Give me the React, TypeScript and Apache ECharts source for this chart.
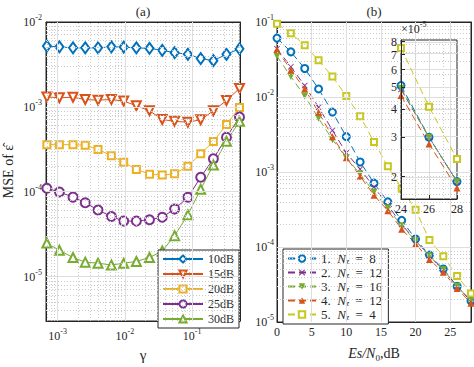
import React, { useEffect, useRef } from "react";
import * as echarts from "echarts";

const FONT = '"Liberation Serif", "Times New Roman", serif';
const INK = "#262626";

// ---------------- Panel (a) ----------------
const gamma = [6.9e-4, 1.06e-3, 1.69e-3, 2.57e-3, 3.98e-3, 6.29e-3, 9.6e-3, 1.48e-2, 2.32e-2, 3.59e-2, 5.48e-2, 8.65e-2, 0.134, 0.207, 0.324, 0.506];
const mse10dB = [5.2e-3, 5.1e-3, 4.96e-3, 4.96e-3, 4.96e-3, 5.1e-3, 5.06e-3, 4.96e-3, 4.89e-3, 4.64e-3, 4.35e-3, 4.17e-3, 3.71e-3, 3.5e-3, 4.17e-3, 4.83e-3];
const mse15dB = [1.31e-3, 1.28e-3, 1.3e-3, 1.22e-3, 1.2e-3, 1.22e-3, 1.17e-3, 1.03e-3, 9.0e-4, 7.1e-4, 6.75e-4, 6.6e-4, 7.05e-4, 9.0e-4, 1.19e-3, 1.65e-3];
const mse20dB = [3.59e-4, 3.59e-4, 3.59e-4, 3.53e-4, 3.15e-4, 2.65e-4, 2.22e-4, 1.83e-4, 1.61e-4, 1.57e-4, 1.63e-4, 2.0e-4, 2.8e-4, 3.9e-4, 6.18e-4, 9.8e-4];
const mse25dB = [1.1e-4, 9.93e-5, 8.64e-5, 7.43e-5, 6.09e-5, 5.1e-5, 4.51e-5, 4.51e-5, 4.68e-5, 5.01e-5, 6.25e-5, 8.6e-5, 1.48e-4, 2.45e-4, 4.37e-4, 7.57e-4];
const mse30dB = [2.49e-5, 2.04e-5, 1.68e-5, 1.48e-5, 1.44e-5, 1.37e-5, 1.44e-5, 1.51e-5, 1.68e-5, 2.0e-5, 3.04e-5, 5.34e-5, 1.07e-4, 2.07e-4, 3.93e-4, 6.75e-4];
const snrNames = ["10dB", "15dB", "20dB", "25dB", "30dB"];
const gammaRange = [6.7e-4, 0.515];
const mseRange = [3e-6, 1e-2];
const gammaTickExps = [-3, -2, -1];
const mseTickExps = [-5, -4, -3, -2];

// ---------------- Panel (b) ----------------
const esN0 = [0, 2, 4, 6, 8, 10, 12, 14, 16, 18, 20, 22, 24, 26, 28];
const ber1 = [6.1e-2, 4.0e-2, 2.4e-2, 1.28e-2, 6.3e-3, 2.96e-3, 1.36e-3, 7.1e-4, 4.0e-4, 2.27e-4, 1.28e-4, 7.8e-5, 5.1e-5, 3.0e-5, 1.9e-5];
const ber2 = [4.4e-2, 2.53e-2, 1.42e-2, 7.3e-3, 3.6e-3, 1.8e-3, 1.09e-3, 6.3e-4, 3.6e-4, 2.0e-4, 1.22e-4, 7.6e-5, 4.9e-5, 3.0e-5, 1.9e-5];
const ber3 = [3.5e-2, 1.87e-2, 1.03e-2, 5.2e-3, 2.7e-3, 1.55e-3, 9.4e-4, 5.4e-4, 3.3e-4, 1.91e-4, 1.22e-4, 7.6e-5, 4.96e-5, 3.0e-5, 1.9e-5];
const ber4 = [4.3e-2, 2.29e-2, 1.28e-2, 6.25e-3, 2.96e-3, 1.55e-3, 8.8e-4, 4.9e-4, 3.05e-4, 1.73e-4, 1.1e-4, 6.8e-5, 4.6e-5, 2.8e-5, 1.78e-5];
const ber5 = [9.5e-2, 7.1e-2, 4.9e-2, 3.08e-2, 1.87e-2, 1.03e-2, 5.55e-3, 2.51e-3, 1.19e-3, 6.0e-4, 3.14e-4, 1.24e-4, 7.5e-5, 4.1e-5, 2.4e-5];
const schemeNames = ["1. Nz = 8", "2. Nz = 12", "3. Nz = 16", "4. Nz = 12", "5. Nz = 4"];
const schemeNz = ["8", "12", "16", "12", "4"];
const esN0Range = [0, 28];
const esN0Ticks = [0, 5, 10, 15, 20, 25];
const berRange = [1e-5, 1e-1];
const berTickExps = [-5, -4, -3, -2, -1];
// inset
const insetXRange = [24, 28];
const insetXTicks = [24, 26, 28];
const insetXMinor = [25, 27];
const insetYRange = [1.59e-5, 8.14e-5];
const insetYTicks = [2, 3, 4, 5, 6, 7, 8]; // x 10^-5

const L = (v: number) => Math.log10(v);

const COL = {
  blue: "#0072BD",
  orange: "#D95319",
  yellow: "#EDB120",
  purple: "#7E2F8E",
  green: "#77AC30",
  lime: "#C8C81E",
};

const X_PATH = "path://M0,1L1,0L5,4L9,0L10,1L6,5L10,9L9,10L5,6L1,10L0,9L4,5Z";

function minorLogs(lo: number, hi: number) {
  const out: number[] = [];
  for (let e = Math.floor(lo) - 1; e <= Math.ceil(hi); e++) {
    for (let k = 2; k <= 9; k++) {
      const v = e + Math.log10(k);
      if (v > lo + 1e-6 && v < hi - 1e-6) out.push(v);
    }
  }
  return out;
}
function innerInts(lo: number, hi: number) {
  const out: number[] = [];
  for (let e = Math.ceil(lo); e <= Math.floor(hi); e++) if (e > lo + 1e-6 && e < hi - 1e-6) out.push(e);
  return out;
}

const MAJOR = { color: "#dedede", width: 1, type: "solid" as const };
const MINOR = { color: "#cacaca", width: 1, type: [1, 2] as any };

function gridLineSeries(xi: number, yi: number, z: number, majX: number[], minX: number[], majY: number[], minY: number[]) {
  return {
    type: "line",
    name: "__grid" + xi,
    xAxisIndex: xi,
    yAxisIndex: yi,
    data: [],
    z,
    silent: true,
    markLine: {
      silent: true,
      symbol: ["none", "none"],
      label: { show: false },
      animation: false,
      data: [
        ...minX.map((v) => ({ xAxis: v, lineStyle: MINOR })),
        ...minY.map((v) => ({ yAxis: v, lineStyle: MINOR })),
        ...majX.map((v) => ({ xAxis: v, lineStyle: MAJOR })),
        ...majY.map((v) => ({ yAxis: v, lineStyle: MAJOR })),
      ],
    },
  };
}

const powRich = {
  b: { fontFamily: FONT, fontSize: 12, color: INK },
  s: { fontFamily: FONT, fontSize: 8, color: INK, padding: [0, 0, 9, 0] },
};
const powFmt = (v: number) => `{b|10}{s|${Math.round(v)}}`;

function axis(gridIndex: number, min: number, max: number, ticks: number[], position: string, extra: any = {}) {
  const showLabel = position === "bottom" || position === "left";
  return {
    type: "value",
    gridIndex,
    min,
    max,
    position,
    axisLine: { show: true, onZero: false, lineStyle: { color: INK, width: 1 } },
    axisTick: { show: true, inside: true, length: 4, customValues: ticks, lineStyle: { color: INK, width: 1 } },
    axisLabel: { show: showLabel, customValues: ticks, color: INK, fontFamily: FONT, fontSize: 12, margin: 4 },
    splitLine: { show: false },
    ...extra,
  };
}

export default function App() {
  const ref = useRef<HTMLDivElement>(null);
  useEffect(() => {
    if (!ref.current) return;
    const chart = echarts.init(ref.current, undefined, { renderer: "svg" });

    const gx = gamma.map(L);
    const aData = (arr: number[]) => arr.map((v, i) => [gx[i], L(v)]);
    const bData = (arr: number[]) => arr.map((v, i) => [esN0[i], L(v)]);
    const insetData = (arr: number[]) =>
      arr.map((v, i) => [esN0[i], L(v)]).filter((p) => p[0] >= insetXRange[0]);

    const gxMin = L(gammaRange[0]);
    const gxMax = L(gammaRange[1]);
    const myMin = L(mseRange[0]);
    const myMax = L(mseRange[1]);
    const byMin = L(berRange[0]);
    const byMax = L(berRange[1]);
    const iyMin = L(insetYRange[0]);
    const iyMax = L(insetYRange[1]);
    const insetYTickVals = insetYTicks.map((k) => L(k * 1e-5));

    const titleStyle = { fontFamily: FONT, fontSize: 13, color: INK };

    const aSeries = [
      { name: snrNames[0], data: aData(mse10dB), color: COL.blue, symbol: "emptyDiamond", symbolSize: [8, 11], rot: 0 },
      { name: snrNames[1], data: aData(mse15dB), color: COL.orange, symbol: "emptyTriangle", symbolSize: 9, rot: 180 },
      { name: snrNames[2], data: aData(mse20dB), color: COL.yellow, symbol: "emptyRect", symbolSize: 7, rot: 0 },
      { name: snrNames[3], data: aData(mse25dB), color: COL.purple, symbol: "emptyCircle", symbolSize: 9, rot: 0 },
      { name: snrNames[4], data: aData(mse30dB), color: COL.green, symbol: "emptyTriangle", symbolSize: 9, rot: 0 },
    ].map((s) => ({
      type: "line",
      name: s.name,
      xAxisIndex: 0,
      yAxisIndex: 0,
      data: s.data,
      symbol: s.symbol,
      symbolSize: s.symbolSize,
      symbolRotate: s.rot,
      showAllSymbol: true,
      clip: false,
      z: 2,
      lineStyle: { color: s.color, width: 1 },
      itemStyle: { color: s.color, borderWidth: 1 },
    }));

    const bDefs = [
      { arr: ber1, color: COL.blue, symbol: "emptyCircle", size: 7, rot: 0 },
      { arr: ber2, color: COL.purple, symbol: X_PATH, size: 6, rot: 0 },
      { arr: ber3, color: COL.green, symbol: "triangle", size: 7, rot: 180 },
      { arr: ber4, color: COL.orange, symbol: "triangle", size: 7, rot: 0 },
      { arr: ber5, color: COL.lime, symbol: "emptyRect", size: 6, rot: 0 },
    ];
    const mkB = (d: any, i: number, inset: boolean) => ({
      type: "line",
      name: inset ? "inset " + schemeNames[i] : schemeNames[i],
      xAxisIndex: inset ? 4 : 2,
      yAxisIndex: inset ? 4 : 2,
      data: inset ? insetData(d.arr) : bData(d.arr),
      symbol: d.symbol,
      symbolSize: d.size,
      symbolRotate: d.rot,
      showAllSymbol: true,
      z: inset ? 7 : 2,
      lineStyle: { color: d.color, width: 1, type: [7, 4] },
      itemStyle: { color: d.color, borderWidth: 1 },
    });
    const bSeries = bDefs.map((d, i) => mkB(d, i, false));
    const insetSeries = bDefs.map((d, i) => mkB(d, i, true));

    const option: any = {
      animation: false,
      backgroundColor: "#ffffff",
      grid: [
        { left: 46, top: 19, width: 194, height: 308, show: true, backgroundColor: "#fff", borderColor: INK, borderWidth: 1 },
        { left: 277, top: 19, width: 194, height: 308, show: true, backgroundColor: "#fff", borderColor: INK, borderWidth: 1 },
        { left: 401, top: 40, width: 56, height: 159, show: true, backgroundColor: "#fff", borderColor: INK, borderWidth: 1, z: 5 },
      ],
      xAxis: [
        axis(0, gxMin, gxMax, gammaTickExps, "bottom", {
          axisLabel: { customValues: gammaTickExps, formatter: powFmt, rich: powRich, margin: 6 },
          name: "γ",
          nameLocation: "middle",
          nameGap: 26,
          nameTextStyle: { fontFamily: FONT, fontSize: 15, color: INK },
        }),
        axis(0, gxMin, gxMax, gammaTickExps, "top", {
          name: "(a)",
          nameLocation: "middle",
          nameGap: 4,
          nameTextStyle: titleStyle,
        }),
        axis(1, esN0Range[0], esN0Range[1], esN0Ticks, "bottom", {
          name: "{i|Es/N}{sub|0}{n|,dB}",
          nameLocation: "middle",
          nameGap: 23,
          nameTextStyle: {
            rich: {
              i: { fontFamily: FONT, fontStyle: "italic", fontSize: 14, color: INK },
              sub: { fontFamily: FONT, fontSize: 9, color: INK, padding: [8, 0, 0, 0] },
              n: { fontFamily: FONT, fontSize: 14, color: INK },
            },
          },
        }),
        axis(1, esN0Range[0], esN0Range[1], esN0Ticks, "top", {
          name: "(b)",
          nameLocation: "middle",
          nameGap: 4,
          nameTextStyle: titleStyle,
        }),
        axis(2, insetXRange[0], insetXRange[1], insetXTicks, "bottom", { z: 8 }),
      ],
      yAxis: [
        axis(0, myMin, myMax, mseTickExps, "left", {
          axisLabel: { customValues: mseTickExps, formatter: powFmt, rich: powRich, margin: 4 },
          name: "MSE of ε\u0302",
          nameLocation: "middle",
          nameGap: 31,
          nameTextStyle: { fontFamily: FONT, fontSize: 14, color: INK },
        }),
        axis(0, myMin, myMax, mseTickExps, "right"),
        axis(1, byMin, byMax, berTickExps, "left", {
          axisLabel: { customValues: berTickExps, formatter: powFmt, rich: powRich, margin: 3 },
        }),
        axis(1, byMin, byMax, berTickExps, "right"),
        axis(2, iyMin, iyMax, insetYTickVals, "left", {
          z: 8,
          axisLabel: {
            customValues: insetYTickVals,
            formatter: (v: number) => String(Math.round(Math.pow(10, v) * 1e5)),
            color: INK,
            fontFamily: FONT,
            fontSize: 12,
            margin: 4,
          },
          name: "{x|×10}{s|-5}",
          nameLocation: "end",
          nameGap: 3,
          nameTextStyle: {
            align: "left",
            rich: {
              x: { fontFamily: FONT, fontSize: 12, color: INK },
              s: { fontFamily: FONT, fontSize: 8, color: INK, padding: [0, 0, 9, 0] },
            },
          },
        }),
      ],
      legend: [
        {
          data: snrNames,
          orient: "vertical",
          left: 158,
          top: 250,
          itemWidth: 40,
          itemHeight: 9,
          itemGap: 3,
          padding: [3, 5, 3, 4],
          backgroundColor: "#fff",
          borderColor: INK,
          borderWidth: 1,
          borderRadius: 0,
          textStyle: { fontFamily: FONT, fontSize: 12, color: INK },
          selectedMode: false,
        },
        {
          data: schemeNames,
          orient: "vertical",
          left: 283,
          top: 249,
          itemWidth: 28,
          itemHeight: 8,
          itemGap: 1,
          padding: [3, 6, 3, 4],
          backgroundColor: "#fff",
          borderColor: INK,
          borderWidth: 1,
          borderRadius: 0,
          selectedMode: false,
          formatter: (name: string) => {
            const i = schemeNames.indexOf(name);
            return `{n|${i + 1}.  }{i|N}{sub|z}{n|  =  ${schemeNz[i]}}`;
          },
          textStyle: {
            fontFamily: FONT,
            fontSize: 13,
            color: INK,
            rich: {
              n: { fontFamily: FONT, fontSize: 13, color: INK },
              i: { fontFamily: FONT, fontSize: 13, fontStyle: "italic", color: INK },
              sub: { fontFamily: FONT, fontSize: 8, fontStyle: "italic", color: INK, padding: [5, 0, 0, 0] },
            },
          },
        },
      ],
      series: [
        gridLineSeries(0, 0, 1, innerInts(gxMin, gxMax), minorLogs(gxMin, gxMax), innerInts(myMin, myMax), minorLogs(myMin, myMax)),
        gridLineSeries(2, 2, 1, esN0Ticks.filter((t) => t > esN0Range[0] && t < esN0Range[1]), [], innerInts(byMin, byMax), minorLogs(byMin, byMax)),
        gridLineSeries(4, 4, 6, insetXTicks.filter((t) => t > insetXRange[0] && t < insetXRange[1]), insetXMinor, insetYTickVals, []),
        ...aSeries,
        ...bSeries,
        ...insetSeries,
      ],
    };
    chart.setOption(option);
    return () => chart.dispose();
  }, []);
  return (
    <div
      ref={ref}
      style={{ position: "fixed", left: 0, top: 0, width: 474, height: 367, background: "#fff" }}
    />
  );
}
